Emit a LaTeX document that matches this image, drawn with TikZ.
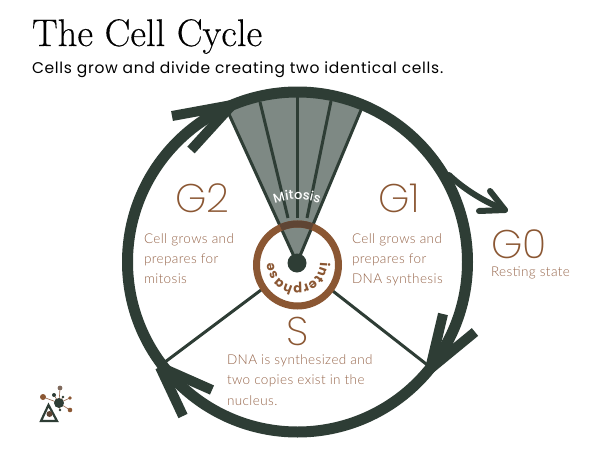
\documentclass[tikz,border=0pt]{standalone}
\usepackage{fontspec}
\usetikzlibrary{decorations.text,calc}
\newfontfamily\thintext{Poppins ExtraLight}
\newfontfamily\bodytext[LetterSpace=3]{Lato Light}
\newfontfamily\heavytext{Poppins Bold}
\newfontfamily\midtext{Poppins Medium}
\newfontfamily\subfont[LetterSpace=4.5]{Poppins}
\newfontfamily\titlefont[FakeBold=0.35]{Latin Modern Roman}
\definecolor{ink}{HTML}{2E3D35}
\definecolor{rust}{HTML}{8B5733}
\definecolor{wedgefill}{HTML}{7E8984}
\definecolor{soft}{HTML}{96654A}
\definecolor{ringdark}{HTML}{5F4534}
\tikzset{
 txt/.style={anchor=base west,inner sep=0pt,outer sep=0pt},
 big/.style={txt,text=rust,font=\thintext\fontsize{40}{40}\selectfont},
 body/.style={txt,text=soft,font=\bodytext\fontsize{13.5}{13.5}\selectfont},
 barb/.style={draw=ink,line width=10pt},
 spoke/.style={draw=ink,line width=3pt},
 link/.style={draw=soft,line width=0.6pt},
}
\begin{document}
\begin{tikzpicture}[x=1pt,y=1pt]
\useasboundingbox (0,-450) rectangle (600,0);
\fill[white] (0,-450) rectangle (600,0);
\coordinate (A) at (297,-263);
\coordinate (R) at (297.5,-262);
% wedge
\fill[wedgefill] (A) -- (228,-110) arc[start angle=114.5,end angle=67.5,radius=168] -- cycle;
\draw[spoke] (A) -- (165,-362);
\draw[spoke] (A) -- (430,-367);
\fill[white] (297.5,-265) circle[radius=41];
\begin{scope}
\clip (A) -- ($(A)+(-69,150)$) -- ($(A)+(64,150)$) -- cycle;
\fill[wedgefill] (297.5,-265) circle[radius=41];
\end{scope}
% wedge lines
\draw[spoke] (A) -- (228,-112);
\draw[spoke] (A) -- (361,-110);
\coordinate (d1a) at (288,-218); \coordinate (d1b) at (260,-102);
\coordinate (d2a) at (297,-218); \coordinate (d2b) at (297,-97);
\coordinate (d3a) at (307,-218); \coordinate (d3b) at (331,-101);
\draw[spoke] (d1a) -- (d1b);
\draw[spoke] (d2a) -- (d2b);
\draw[spoke] (d3a) -- (d3b);
% small ring
\draw[rust,line width=7pt] (297.5,-265) circle[radius=41];
\begin{scope}
\clip (A) -- ($(A)+(-69,150)$) -- ($(A)+(64,150)$) -- cycle;
\draw[ringdark,line width=7pt] (297.5,-265) circle[radius=41];
\end{scope}
\fill[ink] (A) circle[radius=9.5];
% main ring
\draw[ink,line width=11pt] (R) circle[radius=170];
% arrowheads
\coordinate (t1) at (232,-105); \coordinate (b1a) at (172,-116); \coordinate (b1b) at (191,-150);
\draw[barb] (b1a) -- (t1); \draw[barb] (b1b) -- (t1);
\coordinate (t2) at (430,-369); \coordinate (b2a) at (443,-314); \coordinate (b2b) at (475,-332);
\draw[barb] (b2a) -- (t2); \draw[barb] (b2b) -- (t2);
\coordinate (t3) at (160,-367); \coordinate (b3a) at (212,-390); \coordinate (b3b) at (183,-416);
\draw[barb] (b3a) -- (t3); \draw[barb] (b3b) -- (t3);
% branch to G0
\coordinate (g0s) at (449,-175); \coordinate (g0t) at (505,-210);
\draw[ink,line width=6pt,line cap=round,line join=round] (g0s) .. controls (465,-190) and (485,-202) .. (g0t);
\draw[ink,line width=6pt,line cap=round,line join=round] (490,-191) -- (g0t) -- (479,-211);
% curved labels
\path[decorate,decoration={text along path,text align=center,
 text={|\midtext\fontsize{13}{13}\selectfont\color{white}|Mitosis}}]
 (233.5,-263) arc[start angle=180,end angle=0,radius=63.5];
\path[decorate,decoration={text along path,text align=center,
 text={|\heavytext\fontsize{13}{13}\selectfont\color{rust}|interphase}}]
 ($(297,-263)+(50:23)$) arc[start angle=50,end angle=-230,radius=23];
% text
\node[txt,font=\titlefont\fontsize{38.5}{38.5}\selectfont] (title) at (32,-46) {The Cell Cycle};
\node[txt,font=\subfont\fontsize{15.5}{15.5}\selectfont] (sub) at (32,-73) {Cells grow and divide creating two identical cells.};
\node[big] (g2) at (175,-212) {G2};
\node[big] (g1) at (378,-212) {G1};
\node[big] (g0) at (491,-258) {G0};
\node[big] (s) at (286,-345) {S};
\node[body] (a1) at (144,-243) {Cell grows and};
\node[body] (a2) at (144,-263) {prepares for};
\node[body] (a3) at (144,-283) {mitosis};
\node[body] (b1) at (352,-243) {Cell grows and};
\node[body] (b2) at (352,-263) {prepares for};
\node[body] (b3) at (352,-283) {DNA synthesis};
\node[body] (c1) at (227,-364) {DNA is synthesized and};
\node[body] (c2) at (227,-384) {two copies exist in the};
\node[body] (c3) at (227,-405) {nucleus.};
\node[body] (rs) at (491,-276) {Resting state};
% logo
\coordinate (lc) at (59,-403);
\foreach \p/\r in {43/397,60/388,54/395,63/397,70/398,70/410,60/410}{
 \draw[link] (lc) -- (\p,-\r);
}
\fill[rust] (43,-397) circle[radius=3];
\fill[ringdark!80!white] (60,-388) circle[radius=2.4];
\fill[ink] (54,-395) circle[radius=2];
\fill[ink] (63,-397) circle[radius=1.4];
\fill[rust] (70,-398) circle[radius=1.8];
\fill[rust] (70,-410) circle[radius=2.3];
\fill[ink] (60,-410) circle[radius=1.4];
\draw[ink,line width=2.2pt,line join=miter] (48.5,-405) -- (41,-421) -- (57,-421) -- cycle;
\fill[ringdark] (49.5,-414) circle[radius=3];
\fill[ink] (lc) circle[radius=5];
\end{tikzpicture}
\end{document}
